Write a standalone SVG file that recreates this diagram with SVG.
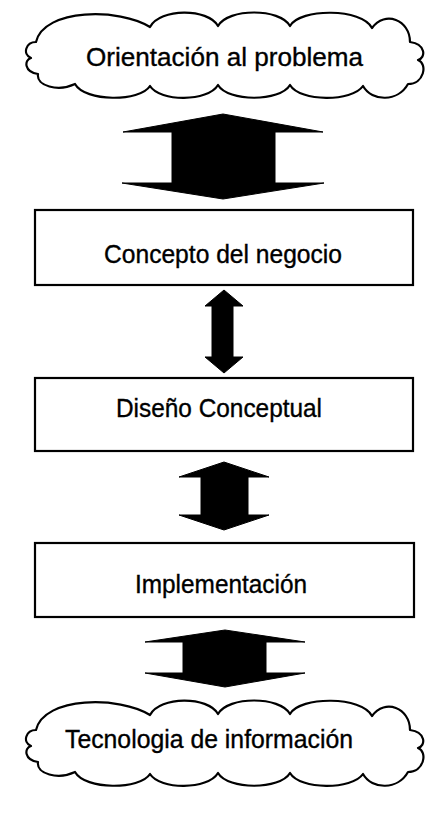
<svg xmlns="http://www.w3.org/2000/svg" xmlns:xlink="http://www.w3.org/1999/xlink" width="447" height="813" viewBox="0 0 447 813">
<style>
.bg{fill:#ffffff}
.box{fill:#ffffff;stroke:#000000;stroke-width:2.2}
.cloud{fill:#ffffff;stroke:#000000;stroke-width:2.2;stroke-linejoin:round}
.lbl{font-family:"Liberation Sans",Arial,sans-serif;font-size:25px;fill:#000000;stroke:#000000;stroke-width:0.35;text-anchor:start}
.arr{fill:#000000;stroke:#000000;stroke-width:1;stroke-linejoin:miter}
</style>
<defs>
<path id="cloudShape" d="M 36,42 C 44,8 120,8 150,27 C 160,8 208,8 218,26 C 228,8 280,8 290,26 C 300,8 362,8 372,28 C 385,10 410,20 410,42 C 426,44 426,58 418,60 C 428,64 424,84 408,84 C 398,102 372,102 363,86 C 352,102 300,102 290,85 C 280,102 228,102 218,85 C 208,102 160,102 150,86 C 140,102 85,102 75,84 C 58,92 36,86 38,74 C 24,72 24,60 31,58 C 22,54 26,42 36,42 Z"/>
</defs>
<rect class="bg" x="0" y="0" width="447" height="813"/>

<g id="connectors">
<polygon class="arr" points="223,114 323,132 275,132 275,183 324,183 223,199 122,183 172,183 172,132 123,132"/>
<polygon class="arr" points="224,290 243,306 233,306 233,357 243,357 224,373 205,357 212,357 212,306 205,306"/>
<polygon class="arr" points="224,462 269,477 248,477 248,515 269,515 224,530 179,515 201,515 201,477 179,477"/>
<polygon class="arr" points="225,630 305,642 266,642 266,673 305,673 225,687 145,673 183,673 183,642 145,642"/>
</g>

<g id="node-orientacion">
<use xlink:href="#cloudShape" class="cloud"/>
<text class="lbl" x="86" y="66" textLength="277" lengthAdjust="spacingAndGlyphs">Orientación al problema</text>
</g>

<g id="node-concepto">
<rect class="box" x="35" y="210" width="378" height="75"/>
<text class="lbl" x="104" y="263" textLength="238" lengthAdjust="spacingAndGlyphs">Concepto del negocio</text>
</g>

<g id="node-diseno">
<rect class="box" x="35" y="378" width="378" height="73"/>
<text class="lbl" x="116" y="417" textLength="206" lengthAdjust="spacingAndGlyphs">Diseño Conceptual</text>
</g>

<g id="node-implementacion">
<rect class="box" x="35" y="543" width="379" height="74"/>
<text class="lbl" x="135" y="593" textLength="172" lengthAdjust="spacingAndGlyphs">Implementación</text>
</g>

<g id="node-tecnologia">
<use xlink:href="#cloudShape" class="cloud" transform="translate(0,688)"/>
<text class="lbl" x="65" y="748" textLength="288" lengthAdjust="spacingAndGlyphs">Tecnologia de información</text>
</g>
</svg>
